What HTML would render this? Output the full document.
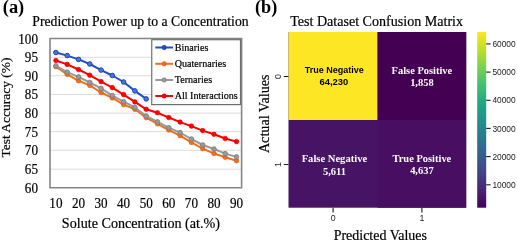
<!DOCTYPE html>
<html><head><meta charset="utf-8"><style>
html,body{margin:0;padding:0;background:#fff;}
body{width:517px;height:240px;overflow:hidden;}
svg{display:block;will-change:transform;}
.s{font-family:"Liberation Serif",serif;fill:#000;stroke:#000;stroke-width:0.2px;}
.b{stroke:none !important;}
</style></head><body>
<svg width="517" height="240" viewBox="0 0 517 240">
<defs><linearGradient id="vir" x1="0" y1="1" x2="0" y2="0"><stop offset="0.0" stop-color="#440154"/><stop offset="0.1" stop-color="#482475"/><stop offset="0.2" stop-color="#414487"/><stop offset="0.3" stop-color="#355f8d"/><stop offset="0.4" stop-color="#2a788e"/><stop offset="0.5" stop-color="#21918c"/><stop offset="0.6" stop-color="#22a884"/><stop offset="0.7" stop-color="#44bf70"/><stop offset="0.8" stop-color="#7ad151"/><stop offset="0.9" stop-color="#bddf26"/><stop offset="1.0" stop-color="#fde725"/></linearGradient></defs>
<line x1="50" x2="241.6" y1="169.20" y2="169.20" stroke="#dcdcdc" stroke-width="1"/>
<line x1="50" x2="241.6" y1="150.30" y2="150.30" stroke="#dcdcdc" stroke-width="1"/>
<line x1="50" x2="241.6" y1="131.60" y2="131.60" stroke="#dcdcdc" stroke-width="1"/>
<line x1="50" x2="241.6" y1="113.10" y2="113.10" stroke="#dcdcdc" stroke-width="1"/>
<line x1="50" x2="241.6" y1="94.40" y2="94.40" stroke="#dcdcdc" stroke-width="1"/>
<line x1="50" x2="241.6" y1="75.80" y2="75.80" stroke="#dcdcdc" stroke-width="1"/>
<line x1="50" x2="241.6" y1="57.30" y2="57.30" stroke="#dcdcdc" stroke-width="1"/>
<text transform="translate(38.0,192.70) scale(0.9,1)" text-anchor="end" class="s" font-size="14.6">60</text>
<text transform="translate(38.0,174.10) scale(0.9,1)" text-anchor="end" class="s" font-size="14.6">65</text>
<text transform="translate(38.0,155.20) scale(0.9,1)" text-anchor="end" class="s" font-size="14.6">70</text>
<text transform="translate(38.0,136.50) scale(0.9,1)" text-anchor="end" class="s" font-size="14.6">75</text>
<text transform="translate(38.0,118.00) scale(0.9,1)" text-anchor="end" class="s" font-size="14.6">80</text>
<text transform="translate(38.0,99.30) scale(0.9,1)" text-anchor="end" class="s" font-size="14.6">85</text>
<text transform="translate(38.0,80.70) scale(0.9,1)" text-anchor="end" class="s" font-size="14.6">90</text>
<text transform="translate(38.0,62.20) scale(0.9,1)" text-anchor="end" class="s" font-size="14.6">95</text>
<text transform="translate(38.0,43.50) scale(0.9,1)" text-anchor="end" class="s" font-size="14.6">100</text>
<text transform="translate(55.9,208.1) scale(0.9,1)" text-anchor="middle" class="s" font-size="14.6">10</text>
<text transform="translate(78.5,208.1) scale(0.9,1)" text-anchor="middle" class="s" font-size="14.6">20</text>
<text transform="translate(101.1,208.1) scale(0.9,1)" text-anchor="middle" class="s" font-size="14.6">30</text>
<text transform="translate(123.6,208.1) scale(0.9,1)" text-anchor="middle" class="s" font-size="14.6">40</text>
<text transform="translate(146.2,208.1) scale(0.9,1)" text-anchor="middle" class="s" font-size="14.6">50</text>
<text transform="translate(168.8,208.1) scale(0.9,1)" text-anchor="middle" class="s" font-size="14.6">60</text>
<text transform="translate(191.4,208.1) scale(0.9,1)" text-anchor="middle" class="s" font-size="14.6">70</text>
<text transform="translate(214.0,208.1) scale(0.9,1)" text-anchor="middle" class="s" font-size="14.6">80</text>
<text transform="translate(236.5,208.1) scale(0.9,1)" text-anchor="middle" class="s" font-size="14.6">90</text>
<polyline points="55.9,66.7 67.2,74.3 78.5,80.8 89.8,85.4 101.1,92.5 112.3,97.9 123.6,104.6 134.9,109.3 146.2,117.6 157.5,123.8 168.8,130.0 180.1,135.7 191.4,142.4 202.7,148.7 214.0,153.5 225.2,157.2 236.5,160.7" fill="none" stroke="#ef6f1e" stroke-width="2" stroke-linejoin="round"/><circle cx="55.9" cy="66.7" r="2.3" fill="#ef6f1e" stroke="#d85a0a" stroke-width="0.6"/><circle cx="67.2" cy="74.3" r="2.3" fill="#ef6f1e" stroke="#d85a0a" stroke-width="0.6"/><circle cx="78.5" cy="80.8" r="2.3" fill="#ef6f1e" stroke="#d85a0a" stroke-width="0.6"/><circle cx="89.8" cy="85.4" r="2.3" fill="#ef6f1e" stroke="#d85a0a" stroke-width="0.6"/><circle cx="101.1" cy="92.5" r="2.3" fill="#ef6f1e" stroke="#d85a0a" stroke-width="0.6"/><circle cx="112.3" cy="97.9" r="2.3" fill="#ef6f1e" stroke="#d85a0a" stroke-width="0.6"/><circle cx="123.6" cy="104.6" r="2.3" fill="#ef6f1e" stroke="#d85a0a" stroke-width="0.6"/><circle cx="134.9" cy="109.3" r="2.3" fill="#ef6f1e" stroke="#d85a0a" stroke-width="0.6"/><circle cx="146.2" cy="117.6" r="2.3" fill="#ef6f1e" stroke="#d85a0a" stroke-width="0.6"/><circle cx="157.5" cy="123.8" r="2.3" fill="#ef6f1e" stroke="#d85a0a" stroke-width="0.6"/><circle cx="168.8" cy="130.0" r="2.3" fill="#ef6f1e" stroke="#d85a0a" stroke-width="0.6"/><circle cx="180.1" cy="135.7" r="2.3" fill="#ef6f1e" stroke="#d85a0a" stroke-width="0.6"/><circle cx="191.4" cy="142.4" r="2.3" fill="#ef6f1e" stroke="#d85a0a" stroke-width="0.6"/><circle cx="202.7" cy="148.7" r="2.3" fill="#ef6f1e" stroke="#d85a0a" stroke-width="0.6"/><circle cx="214.0" cy="153.5" r="2.3" fill="#ef6f1e" stroke="#d85a0a" stroke-width="0.6"/><circle cx="225.2" cy="157.2" r="2.3" fill="#ef6f1e" stroke="#d85a0a" stroke-width="0.6"/><circle cx="236.5" cy="160.7" r="2.3" fill="#ef6f1e" stroke="#d85a0a" stroke-width="0.6"/>
<polyline points="55.9,65.9 67.2,72.1 78.5,76.9 89.8,82.5 101.1,88.4 112.3,95.6 123.6,101.7 134.9,107.5 146.2,116.0 157.5,121.9 168.8,127.7 180.1,132.6 191.4,139.0 202.7,145.0 214.0,149.0 225.2,153.6 236.5,156.9" fill="none" stroke="#9a9a9a" stroke-width="2" stroke-linejoin="round"/><circle cx="55.9" cy="65.9" r="2.3" fill="#9a9a9a" stroke="#7a7a7a" stroke-width="0.8"/><circle cx="67.2" cy="72.1" r="2.3" fill="#9a9a9a" stroke="#7a7a7a" stroke-width="0.8"/><circle cx="78.5" cy="76.9" r="2.3" fill="#9a9a9a" stroke="#7a7a7a" stroke-width="0.8"/><circle cx="89.8" cy="82.5" r="2.3" fill="#9a9a9a" stroke="#7a7a7a" stroke-width="0.8"/><circle cx="101.1" cy="88.4" r="2.3" fill="#9a9a9a" stroke="#7a7a7a" stroke-width="0.8"/><circle cx="112.3" cy="95.6" r="2.3" fill="#9a9a9a" stroke="#7a7a7a" stroke-width="0.8"/><circle cx="123.6" cy="101.7" r="2.3" fill="#9a9a9a" stroke="#7a7a7a" stroke-width="0.8"/><circle cx="134.9" cy="107.5" r="2.3" fill="#9a9a9a" stroke="#7a7a7a" stroke-width="0.8"/><circle cx="146.2" cy="116.0" r="2.3" fill="#9a9a9a" stroke="#7a7a7a" stroke-width="0.8"/><circle cx="157.5" cy="121.9" r="2.3" fill="#9a9a9a" stroke="#7a7a7a" stroke-width="0.8"/><circle cx="168.8" cy="127.7" r="2.3" fill="#9a9a9a" stroke="#7a7a7a" stroke-width="0.8"/><circle cx="180.1" cy="132.6" r="2.3" fill="#9a9a9a" stroke="#7a7a7a" stroke-width="0.8"/><circle cx="191.4" cy="139.0" r="2.3" fill="#9a9a9a" stroke="#7a7a7a" stroke-width="0.8"/><circle cx="202.7" cy="145.0" r="2.3" fill="#9a9a9a" stroke="#7a7a7a" stroke-width="0.8"/><circle cx="214.0" cy="149.0" r="2.3" fill="#9a9a9a" stroke="#7a7a7a" stroke-width="0.8"/><circle cx="225.2" cy="153.6" r="2.3" fill="#9a9a9a" stroke="#7a7a7a" stroke-width="0.8"/><circle cx="236.5" cy="156.9" r="2.3" fill="#9a9a9a" stroke="#7a7a7a" stroke-width="0.8"/>
<polyline points="55.9,60.5 67.2,64.4 78.5,69.5 89.8,75.2 101.1,81.6 112.3,87.6 123.6,94.6 134.9,101.9 146.2,109.3 157.5,112.8 168.8,117.5 180.1,122.1 191.4,126.1 202.7,130.6 214.0,134.3 225.2,138.5 236.5,141.6" fill="none" stroke="#ff0000" stroke-width="2" stroke-linejoin="round"/><circle cx="55.9" cy="60.5" r="2.3" fill="#ff0000" stroke="#e00000" stroke-width="0.6"/><circle cx="67.2" cy="64.4" r="2.3" fill="#ff0000" stroke="#e00000" stroke-width="0.6"/><circle cx="78.5" cy="69.5" r="2.3" fill="#ff0000" stroke="#e00000" stroke-width="0.6"/><circle cx="89.8" cy="75.2" r="2.3" fill="#ff0000" stroke="#e00000" stroke-width="0.6"/><circle cx="101.1" cy="81.6" r="2.3" fill="#ff0000" stroke="#e00000" stroke-width="0.6"/><circle cx="112.3" cy="87.6" r="2.3" fill="#ff0000" stroke="#e00000" stroke-width="0.6"/><circle cx="123.6" cy="94.6" r="2.3" fill="#ff0000" stroke="#e00000" stroke-width="0.6"/><circle cx="134.9" cy="101.9" r="2.3" fill="#ff0000" stroke="#e00000" stroke-width="0.6"/><circle cx="146.2" cy="109.3" r="2.3" fill="#ff0000" stroke="#e00000" stroke-width="0.6"/><circle cx="157.5" cy="112.8" r="2.3" fill="#ff0000" stroke="#e00000" stroke-width="0.6"/><circle cx="168.8" cy="117.5" r="2.3" fill="#ff0000" stroke="#e00000" stroke-width="0.6"/><circle cx="180.1" cy="122.1" r="2.3" fill="#ff0000" stroke="#e00000" stroke-width="0.6"/><circle cx="191.4" cy="126.1" r="2.3" fill="#ff0000" stroke="#e00000" stroke-width="0.6"/><circle cx="202.7" cy="130.6" r="2.3" fill="#ff0000" stroke="#e00000" stroke-width="0.6"/><circle cx="214.0" cy="134.3" r="2.3" fill="#ff0000" stroke="#e00000" stroke-width="0.6"/><circle cx="225.2" cy="138.5" r="2.3" fill="#ff0000" stroke="#e00000" stroke-width="0.6"/><circle cx="236.5" cy="141.6" r="2.3" fill="#ff0000" stroke="#e00000" stroke-width="0.6"/>
<polyline points="55.9,52.5 67.2,55.6 78.5,59.4 89.8,64.0 101.1,70.1 112.3,75.5 123.6,82.0 134.9,90.9 146.2,98.9" fill="none" stroke="#1f50c3" stroke-width="2" stroke-linejoin="round"/><circle cx="55.9" cy="52.5" r="2.3" fill="#4676d4" stroke="#1a46b0" stroke-width="1.0"/><circle cx="67.2" cy="55.6" r="2.3" fill="#4676d4" stroke="#1a46b0" stroke-width="1.0"/><circle cx="78.5" cy="59.4" r="2.3" fill="#4676d4" stroke="#1a46b0" stroke-width="1.0"/><circle cx="89.8" cy="64.0" r="2.3" fill="#4676d4" stroke="#1a46b0" stroke-width="1.0"/><circle cx="101.1" cy="70.1" r="2.3" fill="#4676d4" stroke="#1a46b0" stroke-width="1.0"/><circle cx="112.3" cy="75.5" r="2.3" fill="#4676d4" stroke="#1a46b0" stroke-width="1.0"/><circle cx="123.6" cy="82.0" r="2.3" fill="#4676d4" stroke="#1a46b0" stroke-width="1.0"/><circle cx="134.9" cy="90.9" r="2.3" fill="#4676d4" stroke="#1a46b0" stroke-width="1.0"/><circle cx="146.2" cy="98.9" r="2.3" fill="#4676d4" stroke="#1a46b0" stroke-width="1.0"/>
<path d="M50,38.5 L241.6,38.5 L241.6,187.8 L50,187.8 Z" fill="none" stroke="#858585" stroke-width="1.6"/>
<rect x="151.75" y="39.7" width="88.75" height="64.89999999999999" fill="#fff" stroke="#6f6f6f" stroke-width="1.2"/>
<line x1="155.3" x2="173.1" y1="47.5" y2="47.5" stroke="#1f50c3" stroke-width="2"/>
<circle cx="164.2" cy="47.5" r="2.2" fill="#1f50c3" stroke="#143c9c" stroke-width="0.6"/>
<text x="174.7" y="50.8" class="s" font-size="10.1">Binaries</text>
<line x1="155.3" x2="173.1" y1="63.8" y2="63.8" stroke="#ef6f1e" stroke-width="2"/>
<circle cx="164.2" cy="63.8" r="2.2" fill="#ef6f1e" stroke="#d85a0a" stroke-width="0.6"/>
<text x="174.7" y="67.1" class="s" font-size="10.1">Quaternaries</text>
<line x1="155.3" x2="173.1" y1="80.0" y2="80.0" stroke="#9a9a9a" stroke-width="2"/>
<circle cx="164.2" cy="80.0" r="2.2" fill="#9a9a9a" stroke="#7a7a7a" stroke-width="0.6"/>
<text x="174.7" y="83.3" class="s" font-size="10.1">Ternaries</text>
<line x1="155.3" x2="173.1" y1="96.0" y2="96.0" stroke="#ff0000" stroke-width="2"/>
<circle cx="164.2" cy="96.0" r="2.2" fill="#ff0000" stroke="#e00000" stroke-width="0.6"/>
<text x="174.7" y="99.3" class="s" font-size="10.1">All Interactions</text>
<text x="2.8" y="12.9" class="s b" font-weight="bold" font-size="18.4">(a)</text>
<text x="32.3" y="26.4" class="s" font-size="13.7">Prediction Power up to a Concentration</text>
<text x="61.8" y="228.2" class="s" font-size="14.15">Solute Concentration (at.%)</text>
<text transform="translate(9.9,157.5) rotate(-90)" class="s" font-size="13.47">Test Accuracy (%)</text>
<text x="255.0" y="12.9" class="s b" font-weight="bold" font-size="18.2">(b)</text>
<text x="290.2" y="25.9" class="s" font-size="14.07">Test Dataset Confusion Matrix</text>
<rect x="288.5" y="32" width="177.7" height="175.7" fill="#471365"/>
<rect x="377.6" y="120.0" width="88.59999999999997" height="87.69999999999999" fill="#470e61"/>
<rect x="288.5" y="32" width="89.10000000000002" height="88.0" fill="#fde725"/>
<rect x="377.6" y="32" width="88.59999999999997" height="88.0" fill="#440154"/>
<text transform="translate(334.2,73.1) scale(0.94,1)" text-anchor="middle" font-family="Liberation Sans" font-weight="bold" font-size="9.6" fill="#000">True Negative</text>
<text transform="translate(333.8,85.3) scale(0.98,1)" text-anchor="middle" font-family="Liberation Sans" font-weight="bold" font-size="9.6" fill="#000">64,230</text>
<text x="421.9" y="73.6" text-anchor="middle" class="s b" font-weight="bold" font-size="10.46" style="fill:#fff;stroke:none">False Positive</text>
<text x="421.9" y="85.5" text-anchor="middle" class="s b" font-weight="bold" font-size="10.46" style="fill:#fff;stroke:none">1,858</text>
<text x="334.4" y="162" text-anchor="middle" class="s b" font-weight="bold" font-size="10.59" style="fill:#fff;stroke:none">False Negative</text>
<text x="334.4" y="174.7" text-anchor="middle" class="s b" font-weight="bold" font-size="10.46" style="fill:#fff;stroke:none">5,611</text>
<text x="421.9" y="161.7" text-anchor="middle" class="s b" font-weight="bold" font-size="10.46" style="fill:#fff;stroke:none">True Positive</text>
<text x="421.9" y="174.4" text-anchor="middle" class="s b" font-weight="bold" font-size="10.46" style="fill:#fff;stroke:none">4,637</text>
<line x1="283.8" x2="288.5" y1="76.5" y2="76.5" stroke="#1a1a1a" stroke-width="1"/>
<text transform="translate(280.6,76.5) rotate(-90)" text-anchor="middle" font-family="Liberation Sans" font-size="8.8" fill="#222">0</text>
<line x1="283.8" x2="288.5" y1="164.5" y2="164.5" stroke="#1a1a1a" stroke-width="1"/>
<text transform="translate(280.6,164.5) rotate(-90)" text-anchor="middle" font-family="Liberation Sans" font-size="8.8" fill="#222">1</text>
<line x1="333.1" x2="333.1" y1="207.7" y2="212.5" stroke="#1a1a1a" stroke-width="1.1"/>
<text x="333.1" y="220.6" text-anchor="middle" font-family="Liberation Sans" font-size="8.8" fill="#222">0</text>
<line x1="421.9" x2="421.9" y1="207.7" y2="212.5" stroke="#1a1a1a" stroke-width="1.1"/>
<text x="421.9" y="220.6" text-anchor="middle" font-family="Liberation Sans" font-size="8.8" fill="#222">1</text>
<text x="333.7" y="240.4" class="s" font-size="13.98">Predicted Values</text>
<text transform="translate(268.5,153.1) rotate(-90)" class="s" font-size="14.15">Actual Values</text>
<rect x="477.2" y="32" width="9.0" height="175.7" fill="url(#vir)"/>
<line x1="486.2" x2="490.59999999999997" y1="184.8" y2="184.8" stroke="#1a1a1a" stroke-width="1.1"/>
<text x="492.4" y="187.9" font-family="Liberation Sans" font-size="8.4" fill="#222">10000</text>
<line x1="486.2" x2="490.59999999999997" y1="156.6" y2="156.6" stroke="#1a1a1a" stroke-width="1.1"/>
<text x="492.4" y="159.7" font-family="Liberation Sans" font-size="8.4" fill="#222">20000</text>
<line x1="486.2" x2="490.59999999999997" y1="128.4" y2="128.4" stroke="#1a1a1a" stroke-width="1.1"/>
<text x="492.4" y="131.5" font-family="Liberation Sans" font-size="8.4" fill="#222">30000</text>
<line x1="486.2" x2="490.59999999999997" y1="100.3" y2="100.3" stroke="#1a1a1a" stroke-width="1.1"/>
<text x="492.4" y="103.4" font-family="Liberation Sans" font-size="8.4" fill="#222">40000</text>
<line x1="486.2" x2="490.59999999999997" y1="72.1" y2="72.1" stroke="#1a1a1a" stroke-width="1.1"/>
<text x="492.4" y="75.2" font-family="Liberation Sans" font-size="8.4" fill="#222">50000</text>
<line x1="486.2" x2="490.59999999999997" y1="43.9" y2="43.9" stroke="#1a1a1a" stroke-width="1.1"/>
<text x="492.4" y="47.0" font-family="Liberation Sans" font-size="8.4" fill="#222">60000</text>
</svg>
</body></html>
